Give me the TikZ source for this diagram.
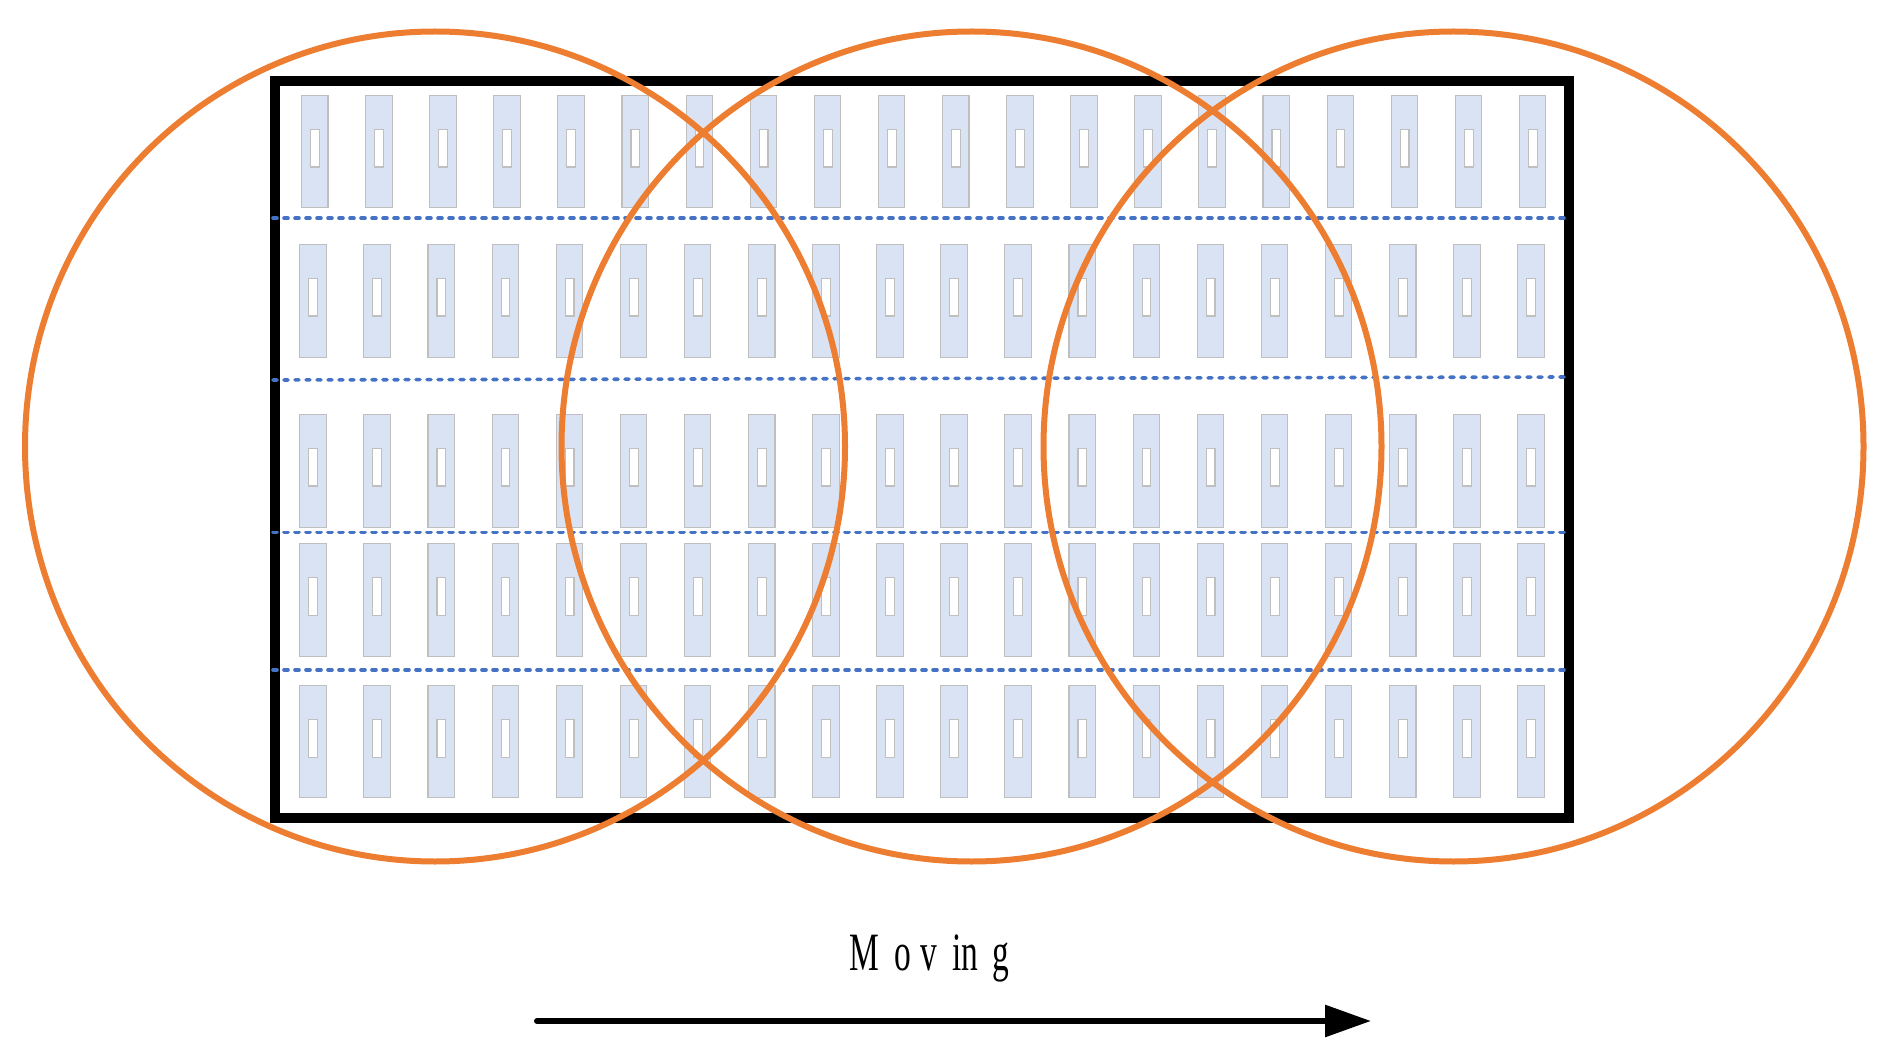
\documentclass[tikz,border=0pt]{standalone}
\usepackage{fontspec}
\setmainfont{Liberation Serif}
\usetikzlibrary{arrows.meta}
\definecolor{corange}{HTML}{ED7D31}
\definecolor{cblue}{HTML}{4472C4}
\definecolor{cfill}{HTML}{DAE3F3}
\definecolor{cgray}{HTML}{BFBFBF}
\begin{document}
\begin{tikzpicture}[x=1pt,y=-1pt,
  frame/.style={draw=black,line width=10pt},
  block/.style={draw=cgray,fill=cfill,line width=1.1pt},
  slot/.style={draw=cgray,fill=white,line width=1.1pt},
  lane/.style={draw=cblue,line width=3.6pt,line cap=round,dash pattern=on 4pt off 7pt},
  ring/.style={draw=corange,line width=6pt},
  movearrow/.style={draw=black,line width=6pt,line cap=round,-{Triangle[length=46pt,width=31pt]}}]
\useasboundingbox (0,0) rectangle (1882,1056);
% frame
\draw[frame] (275,81.5) rectangle (1569,818);
% blocks
\foreach \xo/\top/\bot in {301/95/208.3, 299.3/244/358.3, 299.3/414/528, 299.3/543.3/657.3, 299.3/685.3/798.3}{
  \foreach \i in {0,...,19}{
    \pgfmathsetmacro{\xa}{\xo+64.1*\i}
    \draw[block] (\xa+0.5,\top+0.5) rectangle (\xa+27,\bot-0.5);
    \draw[slot] (\xa+9.5,\top+34.5) rectangle (\xa+18.3,\top+72);
  }
}
% lanes
\draw[lane] (273,218.3) -- (1570,218.3);
\draw[lane] (273,380) -- (1570,377);
\draw[lane] (273,532.3) -- (1570,532.3);
\draw[lane] (273,670) -- (1570,670);
% rings
\draw[ring] (435,446.5) ellipse [x radius=410, y radius=415];
\draw[ring] (971.5,446.5) ellipse [x radius=410, y radius=415];
\draw[ring] (1453.5,446.5) ellipse [x radius=410, y radius=415];
% label and arrow
\node[anchor=base west,inner sep=0pt] (moving) at (849,970)
  {\scalebox{0.62}[1]{\fontsize{54}{54}\selectfont M\hspace{24.5pt}o\hspace{15pt}v\hspace{24.7pt}in\hspace{22.5pt}g}};
\coordinate (astart) at (537,1021);
\coordinate (aend) at (1371,1021);
\draw[movearrow] (astart) -- (aend);
\end{tikzpicture}
\end{document}
